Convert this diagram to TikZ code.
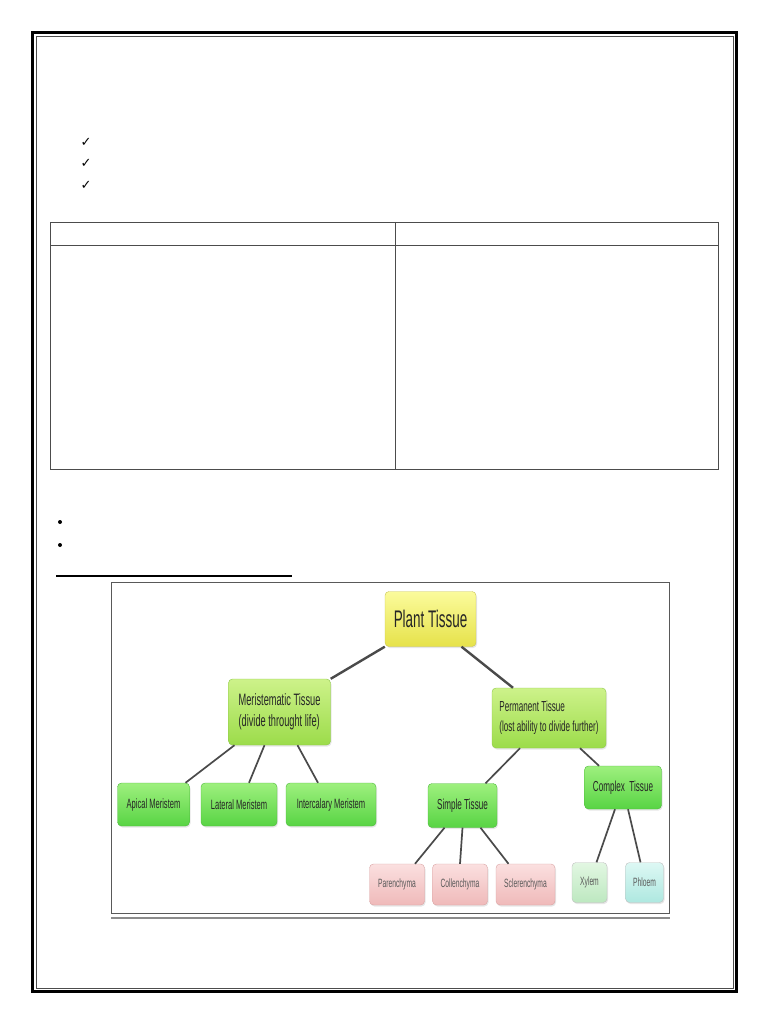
\documentclass[tikz,border=0pt]{standalone}
\usepackage{fontspec}
\setmainfont{Liberation Sans}
\newfontfamily\narrow[FakeStretch=0.56]{Liberation Sans}
\newfontfamily\symb{DejaVu Sans}
\usetikzlibrary{calc,shadows}
\definecolor{ylwT}{HTML}{FBFB9C}
\definecolor{ylwB}{HTML}{E6E24A}
\definecolor{ylwD}{HTML}{C9C455}
\definecolor{limT}{HTML}{CDF28A}
\definecolor{limB}{HTML}{9CDC4A}
\definecolor{limD}{HTML}{8CC647}
\definecolor{grnT}{HTML}{9EF07E}
\definecolor{grnB}{HTML}{58D444}
\definecolor{grnD}{HTML}{4DB83C}
\definecolor{pnkT}{HTML}{FBE0E0}
\definecolor{pnkB}{HTML}{EFB9B9}
\definecolor{pnkD}{HTML}{D9A3A3}
\definecolor{xylT}{HTML}{E2F7E2}
\definecolor{xylB}{HTML}{BDE8C0}
\definecolor{phlT}{HTML}{DDF8F4}
\definecolor{phlB}{HTML}{AEE8E0}
\definecolor{lnk}{HTML}{4A4A4A}

\begin{document}
\begin{tikzpicture}[x=1pt, y=-1pt,
    tbox/.style={draw, rounded corners=4pt, inner sep=0pt, text=black!85,
                 drop shadow={opacity=0.2, shadow xshift=1pt, shadow yshift=-1.5pt}},
    ylw/.style={tbox, draw=ylwD, top color=ylwT, bottom color=ylwB},
    lim/.style={tbox, draw=limD, top color=limT, bottom color=limB, align=left},
    grn/.style={tbox, draw=grnD, top color=grnT, bottom color=grnB,
                minimum height=43pt, font=\narrow\fontsize{13.5}{15}\selectfont},
    pnk/.style={tbox, draw=pnkD, top color=pnkT, bottom color=pnkB, text=black!65,
                minimum height=41pt, font=\narrow\fontsize{12}{14}\selectfont},
    pale/.style={tbox, draw=black!25, text=black!65, minimum height=40pt,
                 font=\narrow\fontsize{12}{14}\selectfont},
    lvl/.style={lnk, line width=2.4pt},
    sub/.style={lnk, line width=1.7pt}]
\useasboundingbox (0,0) rectangle (768,1024);
%
% page frame
\draw[line width=3pt] (32.5,33) rectangle (736,991);
\draw[line width=0.8pt, black!70] (36,36.7) rectangle (733,988);
%
\foreach \y in {142,163,185}
  \node[font=\symb\fontsize{13}{13}\selectfont] (ck\y) at (86,\y) {✓};
%
\draw[black!70, line width=0.8pt] (50,222) rectangle (718,469)
      (50,245) -- (718,245) (395,222) -- (395,469);
%
\fill (60,522) circle (2pt) (60,545) circle (2pt);
\draw[line width=2pt] (56,576) -- (292,576);
%
\draw[black!65, line width=0.9pt] (111,582) rectangle (669,913);
\draw[black!45, line width=2pt] (111,918) -- (670,918);
%
\node[ylw, minimum width=91pt, minimum height=55pt,
      font=\narrow\fontsize{24}{26}\selectfont] (pt) at (430.5,619) {Plant Tissue};
\node[lim, minimum width=102pt, minimum height=66pt,
      font=\narrow\fontsize{16.5}{21}\selectfont] (mt) at (279.5,712)
      {Meristematic Tissue\\(divide throught life)};
\node[lim, minimum width=114pt, minimum height=60pt,
      font=\narrow\fontsize{14.5}{20}\selectfont] (pm) at (549,718)
      {Permanent Tissue\\(lost ability to divide further)};
%
\node[grn, minimum width=72pt] (am) at (153.5,804.5) {Apical Meristem};
\node[grn, minimum width=76pt] (lm) at (239,804.5) {Lateral Meristem};
\node[grn, minimum width=90pt] (im) at (331,804.5) {Intercalary Meristem};
\node[grn, minimum width=69pt, minimum height=44pt,
      font=\narrow\fontsize{14.5}{16}\selectfont] (st) at (462.5,805.5) {Simple Tissue};
\node[grn, minimum width=77pt,
      font=\narrow\fontsize{14.5}{16}\selectfont] (ct) at (623,787.5) {Complex~ Tissue};
%
\node[pnk, minimum width=55pt] (par) at (397,884.5) {Parenchyma};
\node[pnk, minimum width=55pt] (col) at (460,884.5) {Collenchyma};
\node[pnk, minimum width=59pt] (scl) at (525.5,884.5) {Sclerenchyma};
\node[pale, top color=xylT, bottom color=xylB, minimum width=35pt] (xy) at (589.5,882.5) {Xylem};
\node[pale, top color=phlT, bottom color=phlB, minimum width=38pt] (ph) at (644.5,882.5) {Phloem};
%
\draw[lvl] (pt.south west) -- (mt.north east);
\draw[lvl] ([xshift=31pt]pt.south) -- ([xshift=-36pt]pm.north);
\draw[sub] ([xshift=-45pt]mt.south) -- ([xshift=32pt]am.north);
\draw[sub] ([xshift=-15pt]mt.south) -- ([xshift=10pt]lm.north);
\draw[sub] ([xshift=18pt]mt.south) -- ([xshift=-13pt]im.north);
\draw[sub] ([xshift=-29pt]pm.south) -- ([xshift=23pt]st.north);
\draw[sub] ([xshift=31pt]pm.south) -- ([xshift=-24pt]ct.north);
\draw[sub] ([xshift=-18pt]st.south) -- ([xshift=18pt]par.north);
\draw[sub] (st.south) -- (col.north);
\draw[sub] ([xshift=18pt]st.south) -- ([xshift=-17pt]scl.north);
\draw[sub] ([xshift=-8pt]ct.south) -- ([xshift=7pt]xy.north);
\draw[sub] ([xshift=5pt]ct.south) -- ([xshift=-4pt]ph.north);
%
\end{tikzpicture}
\end{document}
